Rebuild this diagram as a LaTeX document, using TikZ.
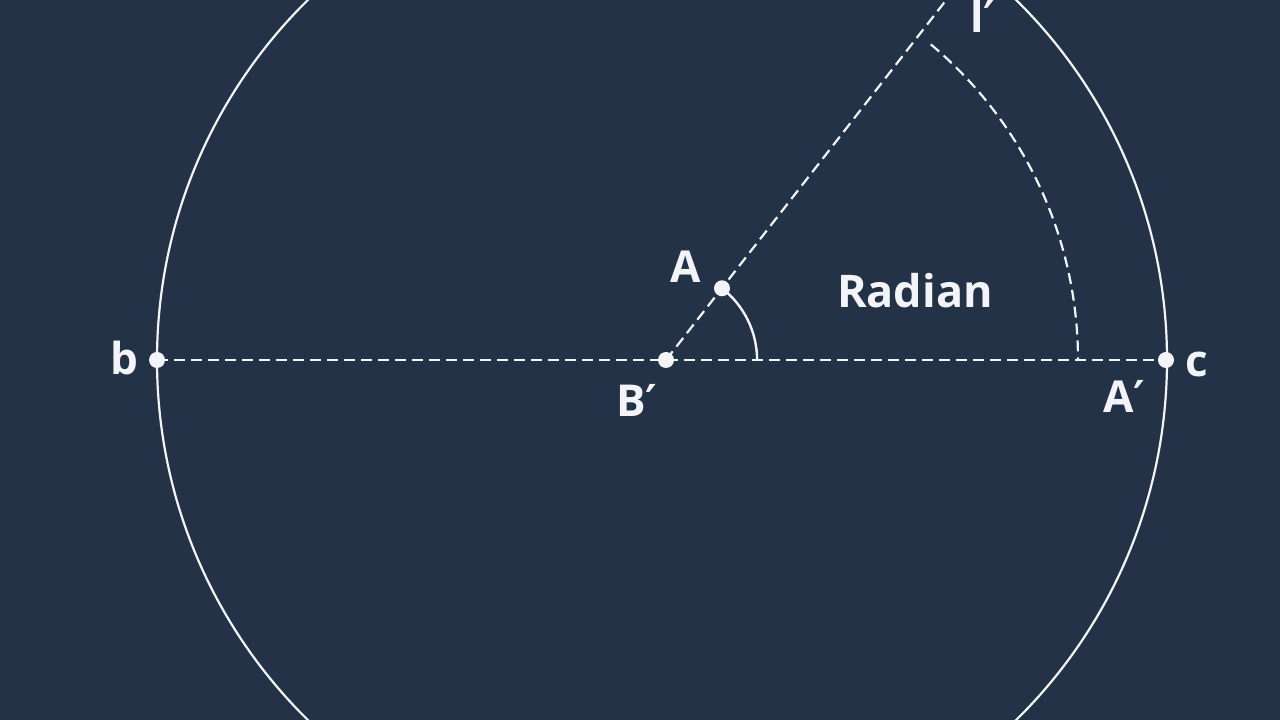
\documentclass[tikz,border=0pt]{standalone}
\usepackage{fontspec}
\setmainfont{Open Sans}
\newfontfamily\primefont{DejaVu Sans}
\definecolor{bg}{HTML}{243247}
\definecolor{fg}{HTML}{F2F4F7}
\tikzset{
  dot/.style={circle, fill=fg, draw=none, inner sep=0pt, minimum size=16pt},
  dline/.style={draw=fg, line width=2.2pt, dash pattern=on 11pt off 6pt},
  sline/.style={draw=fg, line width=2.4pt},
  lab/.style={text=fg, font=\bfseries\fontsize{44}{50}\selectfont, inner sep=0pt, anchor=base},
}
\newcommand{\pr}{{\primefont\bfseries ′}}
\begin{document}
\begin{tikzpicture}[x=1pt,y=1pt]
\fill[bg] (0,0) rectangle (1280,720);
\useasboundingbox (0,0) rectangle (1280,720);
\clip (0,0) rectangle (1280,720);
% coordinates
\coordinate (O) at (662,360);
\coordinate (pb) at (157,360);
\coordinate (pc) at (1166,360);
\coordinate (pB) at (666,360);
\coordinate (pA) at (722,431.7);
\coordinate (tp) at (961,739);
% big circle
\draw[sline, line width=2.2pt] (O) circle (505pt);
% lines
\draw[dline] (pb) -- (pc);
\draw[dline] (pB) -- (tp);
% dashed radian arc
\draw[dline] (pB) ++(50:412pt) arc[start angle=50, end angle=0, radius=412pt];
% small angle arc
\draw[sline] (pA) arc[start angle=52.1, end angle=0, radius=91pt];
% dots
\node[dot] (b) at (pb) {};
\node[dot] (c) at (pc) {};
\node[dot] (Bp) at (pB) {};
\node[dot] (A) at (pA) {};
% labels
\node[lab] (lb) at (124,345) {b};
\node[lab] (lc) at (1197,343) {c};
\node[lab] (lBp) at (637,303) {B\pr};
\node[lab] (lA) at (686,437) {A};
\node[lab] (lAp) at (1124,307) {A\pr};
\node[lab] (lI) at (983,687) {l\pr};
\node[lab, font=\bfseries\fontsize{45}{50}\selectfont] (rad) at (915,412) {Radian};
\end{tikzpicture}
\end{document}
